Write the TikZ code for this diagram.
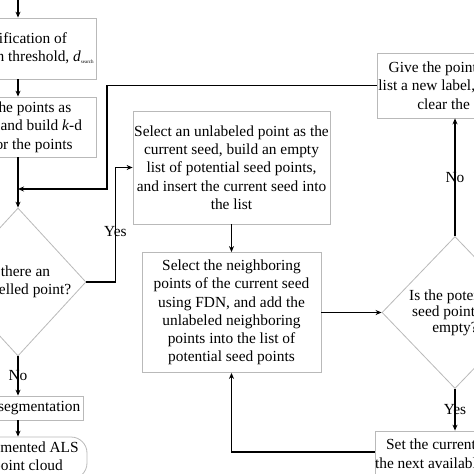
\documentclass[tikz,border=0pt]{standalone}
\usepackage{fontspec}
\setmainfont{Liberation Serif}
\usetikzlibrary{arrows.meta, calc, shapes.geometric}

\definecolor{boxgray}{RGB}{185,185,185}

\begin{document}
\begin{tikzpicture}[x=1pt, y=-1pt, >={Stealth[length=6pt, width=5pt]}, line width=1.2pt,
  font=\fontsize{15.4}{18.3}\selectfont,
  box/.style={draw=boxgray, line width=0.8pt, align=center, inner xsep=0pt, inner ysep=2pt},
  decision/.style={diamond, draw=boxgray, line width=0.8pt, inner sep=0pt},
  term/.style={draw=boxgray, line width=0.8pt, rounded corners=16pt, align=center, inner xsep=0pt}]
  \useasboundingbox (0,0) rectangle (474,474);
  \clip (0,0) rectangle (474,474);

  % left column
  \coordinate (top) at (18,0);
  \node[box, minimum width=156pt, minimum height=61pt] (spec) at (18,48.5)
    {Specification of\\the search threshold, \textit{d}\raisebox{-1.5pt}{\fontsize{5}{5}\selectfont search}};
  \node[box, minimum width=156pt, minimum height=60pt] (tree) at (18,127)
    {Sort the points as\\a field, and build \textit{k}-d\\tree for the points};
  \node[decision, minimum width=136pt, minimum height=148pt] (ask1) at (18,282) {};
  \node[align=center] (ask1txt) at (ask1) {Is there an\\unlabelled point?};
  \node[box, minimum width=130pt, minimum height=24pt] (fin) at (18,408) {Finish segmentation};
  \node[term, minimum width=118pt, minimum height=42pt] (out) at (28,458) {Segmented ALS\\point cloud};

  % growing loop
  \node[box, minimum width=197pt, minimum height=113pt] (seed) at (231.5,167.5)
    {Select an unlabeled point as the\\current seed, build an empty\\list of potential seed points,\\and insert the current seed into\\the list};
  \node[box, minimum width=179pt, minimum height=120pt] (grow) at (231.5,312.5)
    {Select the neighboring\\points of the current seed\\using FDN, and add the\\unlabeled neighboring\\points into the list of\\potential seed points};
  \node[decision, minimum width=146pt, minimum height=152pt] (ask2) at (455,312.5) {};
  \node[align=center, font=\fontsize{15.4}{16}\selectfont] (ask2txt) at (ask2) {Is the potential\\seed point list\\empty?};
  \node[box, minimum width=156pt, minimum height=65pt] (give) at (455,85.5)
    {Give the points in the\\list a new label, and then\\clear the list};
  \node[box, minimum width=156pt, minimum height=64pt] (next) at (455,463)
    {Set the current seed as\\the next available point in\\the list};

  \draw[->] (top) -- (spec);
  \draw[->] (spec) -- (tree);
  \draw[->] (tree) -- (ask1);
  \draw[->] (ask1) -- (fin) node[midway]{No};
  \draw[->] (fin) -- (fin.south |- out.north);
  \draw[->] (ask1.east) -- ++(29,0) |- (seed.west) node[pos=0.22]{Yes};
  \draw[->] (seed) -- (grow);
  \draw[->] (grow) -- (ask2);
  \draw[->] (ask2) -- (give) node[midway]{No};
  \draw[->] (ask2) -- (next) node[midway]{Yes};
  \draw[->] ([yshift=11pt]next.west) -| (grow.south);
  \coordinate (loop) at (18,189);
  \draw[->] (give.west) -| (107,189) -- (loop);
\end{tikzpicture}
\end{document}
